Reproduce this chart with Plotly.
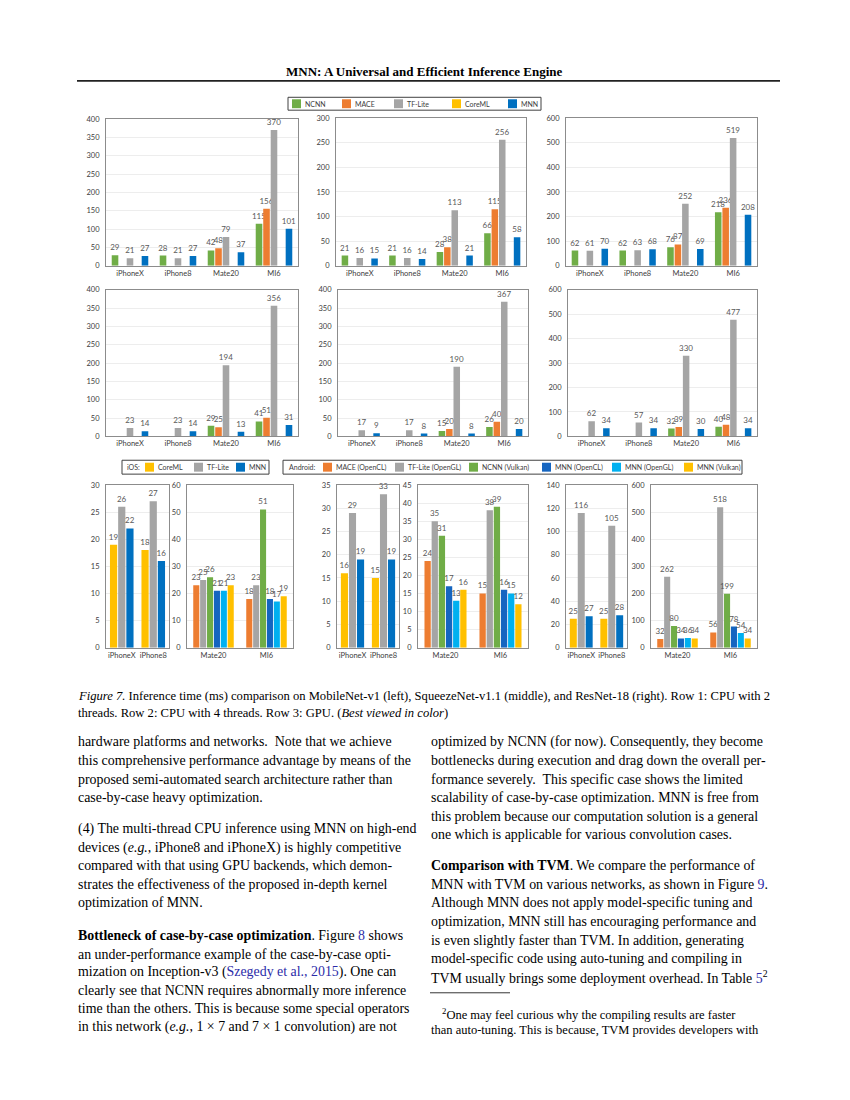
import plotly.graph_objects as go

PAGE_W, PAGE_H = 850, 1100
PAGE_MARGIN = 8                      # browser's default body margin
FIG_W, FIG_H = PAGE_W - 2 * PAGE_MARGIN, PAGE_H - 2 * PAGE_MARGIN

# ---------------- data ----------------
devices = ["iPhoneX", "iPhone8", "Mate20", "MI6"]
ios_devices = ["iPhoneX", "iPhone8"]
android_devices = ["Mate20", "MI6"]

cpu_engines = ["NCNN", "MACE", "TF-Lite", "CoreML", "MNN"]
ios_engines = ["CoreML", "TF-Lite", "MNN"]
android_engines = ["MACE (OpenCL)", "TF-Lite (OpenGL)", "NCNN (Vulkan)",
                   "MNN (OpenCL)", "MNN (OpenGL)", "MNN (Vulkan)"]

# Row 1: CPU with 2 threads
mobilenet_cpu2 = {"NCNN": [29, 28, 42, 115], "MACE": [None, None, 48, 156],
                  "TF-Lite": [21, 21, 79, 370], "CoreML": [None, None, None, None],
                  "MNN": [27, 27, 37, 101]}
squeezenet_cpu2 = {"NCNN": [21, 21, 28, 66], "MACE": [None, None, 38, 115],
                   "TF-Lite": [16, 16, 113, 256], "CoreML": [None, None, None, None],
                   "MNN": [15, 14, 21, 58]}
resnet_cpu2 = {"NCNN": [62, 62, 76, 218], "MACE": [None, None, 87, 236],
               "TF-Lite": [61, 63, 252, 519], "CoreML": [None, None, None, None],
               "MNN": [70, 68, 69, 208]}

# Row 2: CPU with 4 threads
mobilenet_cpu4 = {"NCNN": [None, None, 29, 41], "MACE": [None, None, 25, 51],
                  "TF-Lite": [23, 23, 194, 356], "CoreML": [None, None, None, None],
                  "MNN": [14, 14, 13, 31]}
squeezenet_cpu4 = {"NCNN": [None, None, 15, 26], "MACE": [None, None, 20, 40],
                   "TF-Lite": [17, 17, 190, 367], "CoreML": [None, None, None, None],
                   "MNN": [9, 8, 8, 20]}
resnet_cpu4 = {"NCNN": [None, None, 32, 40], "MACE": [None, None, 39, 48],
               "TF-Lite": [62, 57, 330, 477], "CoreML": [None, None, None, None],
               "MNN": [34, 34, 30, 34]}

# Row 3: GPU
mobilenet_gpu_ios = {"CoreML": [19, 18], "TF-Lite": [26, 27], "MNN": [22, 16]}
mobilenet_gpu_android = {"MACE (OpenCL)": [23, 18], "TF-Lite (OpenGL)": [25, 23],
                         "NCNN (Vulkan)": [26, 51], "MNN (OpenCL)": [21, 18],
                         "MNN (OpenGL)": [21, 17], "MNN (Vulkan)": [23, 19]}
squeezenet_gpu_ios = {"CoreML": [16, 15], "TF-Lite": [29, 33], "MNN": [19, 19]}
squeezenet_gpu_android = {"MACE (OpenCL)": [24, 15], "TF-Lite (OpenGL)": [35, 38],
                          "NCNN (Vulkan)": [31, 39], "MNN (OpenCL)": [17, 16],
                          "MNN (OpenGL)": [13, 15], "MNN (Vulkan)": [16, 12]}
resnet_gpu_ios = {"CoreML": [25, 25], "TF-Lite": [116, 105], "MNN": [27, 28]}
resnet_gpu_android = {"MACE (OpenCL)": [32, 56], "TF-Lite (OpenGL)": [262, 518],
                      "NCNN (Vulkan)": [80, 199], "MNN (OpenCL)": [34, 78],
                      "MNN (OpenGL)": [36, 54], "MNN (Vulkan)": [34, 34]}

colors = {"NCNN": "#70AD47", "MACE": "#ED7D31", "TF-Lite": "#A5A5A5",
          "CoreML": "#FFC000", "MNN": "#0070C0",
          "MACE (OpenCL)": "#ED7D31", "TF-Lite (OpenGL)": "#A5A5A5",
          "NCNN (Vulkan)": "#70AD47", "MNN (OpenCL)": "#1565C0",
          "MNN (OpenGL)": "#00B0F0", "MNN (Vulkan)": "#FFC000"}

# chart specs: data, categories, engines, (x0, x1, y0, y1) in page px, ymax, dtick
charts = [
    (mobilenet_cpu2, devices, cpu_engines, (106, 298, 116, 264), 400, 50),
    (squeezenet_cpu2, devices, cpu_engines, (336, 526, 115, 264), 300, 50),
    (resnet_cpu2, devices, cpu_engines, (566, 757, 115, 264), 600, 100),
    (mobilenet_cpu4, devices, cpu_engines, (106, 298, 288, 436), 400, 50),
    (squeezenet_cpu4, devices, cpu_engines, (338, 528, 288, 436), 400, 50),
    (resnet_cpu4, devices, cpu_engines, (568, 757, 288, 436), 600, 100),
    (mobilenet_gpu_ios, ios_devices, ios_engines, (106, 169, 485, 649), 30, 5),
    (mobilenet_gpu_android, android_devices, android_engines, (187, 293, 485, 649), 60, 10),
    (squeezenet_gpu_ios, ios_devices, ios_engines, (337, 399, 485, 649), 35, 5),
    (squeezenet_gpu_android, android_devices, android_engines, (418, 528, 485, 649), 45, 5),
    (resnet_gpu_ios, ios_devices, ios_engines, (566, 627, 485, 649), 140, 20),
    (resnet_gpu_android, android_devices, android_engines, (651, 757, 485, 649), 600, 100),
]

CHART_FONT = "Lato"
LABEL_GRAY = "#595959"
FRAME = "#8C8C8C"


def px_x(v):
    return (v - PAGE_MARGIN) / FIG_W


def px_y(v):
    return 1 - (v - PAGE_MARGIN) / FIG_H


fig = go.Figure()
layout_axes = {}

for i, (data, cats, engines, box, ymax, dtick) in enumerate(charts, start=1):
    sfx = "" if i == 1 else str(i)
    for eng in engines:
        fig.add_trace(go.Bar(
            x=cats, y=data[eng], name=eng,
            marker=dict(color=colors[eng], line=dict(width=0)),
            texttemplate="%{y}", textposition="outside", textangle=0,
            constraintext="none", cliponaxis=False,
            textfont=dict(family=CHART_FONT, size=8, color=LABEL_GRAY),
            xaxis="x" + sfx, yaxis="y" + sfx, showlegend=False,
        ))
    x0, x1, y0, y1 = box
    layout_axes["xaxis" + sfx] = dict(
        domain=[px_x(x0), px_x(x1)], anchor="y" + sfx, type="category",
        categoryorder="array", categoryarray=cats, tickangle=0,
        showline=True, mirror=True, linecolor=FRAME, linewidth=1,
        showgrid=False, ticks="", fixedrange=True,
        tickfont=dict(family=CHART_FONT, size=7.5, color="#404040"),
    )
    layout_axes["yaxis" + sfx] = dict(
        domain=[px_y(y1), px_y(y0)], anchor="x" + sfx,
        range=[0, ymax], tickmode="linear", tick0=0, dtick=dtick,
        showline=True, mirror=True, linecolor=FRAME, linewidth=1,
        showgrid=True, gridcolor="#EDEDED", gridwidth=0.8, zeroline=False,
        ticks="", fixedrange=True, ticklabelstandoff=4,
        tickfont=dict(family=CHART_FONT, size=7.5, color="#404040"),
    )

shapes = []
annotations = []
LEG_FONT = dict(family=CHART_FONT, size=7, color="#404040")


# ---------- legends (box, colour keys, labels) ----------
def add_legend(box, items, title=None):
    bx0, bx1, by0, by1 = box
    shapes.append(dict(type="rect", xref="paper", yref="paper",
                       x0=px_x(bx0), x1=px_x(bx1), y0=px_y(by1), y1=px_y(by0),
                       line=dict(color="#404040", width=1), fillcolor="white"))
    cy = (by0 + by1) / 2
    if title:
        annotations.append(dict(text=title[0], xref="paper", yref="paper",
                                x=px_x(title[1]), y=px_y(cy), showarrow=False,
                                xanchor="left", yanchor="middle", font=LEG_FONT))
    for label, sx in items:
        shapes.append(dict(type="rect", xref="paper", yref="paper",
                           x0=px_x(sx), x1=px_x(sx + 9), y0=px_y(cy + 4.5), y1=px_y(cy - 4.5),
                           line=dict(width=0), fillcolor=colors[label]))
        annotations.append(dict(text=label, xref="paper", yref="paper",
                                x=px_x(sx + 11), y=px_y(cy), showarrow=False,
                                xanchor="left", yanchor="middle", font=LEG_FONT))


add_legend((288, 541, 94, 107), list(zip(cpu_engines, [292, 342, 394, 452, 508])))
add_legend((122, 269, 460, 474), list(zip(ios_engines, [145, 194, 236])), ("iOS:", 125))
add_legend((283, 742, 460, 474), list(zip(android_engines, [323, 395, 469, 542, 612, 684])),
           ("Android:", 287))

# ---------- page text ----------
SERIF = "Liberation Serif"
BLUE = "#2B2BA8"
DY = 3   # visual-centre correction for text lines


def text_line(text, x, y, size=13.9, anchor="left"):
    annotations.append(dict(text=text, xref="paper", yref="paper",
                            x=px_x(x), y=px_y(y), showarrow=False,
                            xanchor=anchor, yanchor="middle", align="left",
                            font=dict(family=SERIF, size=size, color="black")))


text_line("<b>MNN: A Universal and Efficient Inference Engine</b>", 424, 68, size=13, anchor="center")
shapes.append(dict(type="line", xref="paper", yref="paper",
                   x0=px_x(77), x1=px_x(780), y0=px_y(77.5), y1=px_y(77.5),
                   line=dict(color="#222222", width=1.6)))

text_line("<i>Figure 7.</i> Inference time (ms) comparison on MobileNet-v1 (left), SqueezeNet-v1.1 (middle), "
          "and ResNet-18 (right). Row 1: CPU with 2", 76, 695 + DY, size=12.6)
text_line("threads. Row 2: CPU with 4 threads. Row 3: GPU. (<i>Best viewed in color</i>)", 76, 712 + DY, size=12.6)

left_lines = [
    ("hardware platforms and networks.  Note that we achieve", 741),
    ("this comprehensive performance advantage by means of the", 760),
    ("proposed semi-automated search architecture rather than", 779),
    ("case-by-case heavy optimization.", 797),
    ("(4) The multi-thread CPU inference using MNN on high-end", 829),
    ("devices (<i>e.g.</i>, iPhone8 and iPhoneX) is highly competitive", 848),
    ("compared with that using GPU backends, which demon-", 866),
    ("strates the effectiveness of the proposed in-depth kernel", 885),
    ("optimization of MNN.", 903),
    ("<b>Bottleneck of case-by-case optimization</b>. Figure <span style='color:%s'>8</span> shows" % BLUE, 936),
    ("an under-performance example of the case-by-case opti-", 955),
    ("mization on Inception-v3 (<span style='color:%s'>Szegedy et al., 2015</span>). One can" % BLUE, 973),
    ("clearly see that NCNN requires abnormally more inference", 992),
    ("time than the others. This is because some special operators", 1010),
    ("in this network (<i>e.g.</i>, 1 × 7 and 7 × 1 convolution) are not", 1029),
]
right_lines = [
    ("optimized by NCNN (for now). Consequently, they become", 741),
    ("bottlenecks during execution and drag down the overall per-", 760),
    ("formance severely.  This specific case shows the limited", 779),
    ("scalability of case-by-case optimization. MNN is free from", 797),
    ("this problem because our computation solution is a general", 816),
    ("one which is applicable for various convolution cases.", 834),
    ("<b>Comparison with TVM</b>. We compare the performance of", 866),
    ("MNN with TVM on various networks, as shown in Figure <span style='color:%s'>9</span>." % BLUE, 885),
    ("Although MNN does not apply model-specific tuning and", 903),
    ("optimization, MNN still has encouraging performance and", 922),
    ("is even slightly faster than TVM. In addition, generating", 941),
    ("model-specific code using auto-tuning and compiling in", 959),
    ("TVM usually brings some deployment overhead. In Table <span style='color:%s'>5</span><sup>2</sup>" % BLUE, 978),
]
for t, y in left_lines:
    text_line(t, 76, y + DY)
for t, y in right_lines:
    text_line(t, 429, y + DY)

shapes.append(dict(type="line", xref="paper", yref="paper",
                   x0=px_x(430), x1=px_x(510), y0=px_y(997), y1=px_y(997),
                   line=dict(color="black", width=0.8)))
text_line("<sup>2</sup>One may feel curious why the compiling results are faster", 440, 1015 + DY, size=12.5)
text_line("than auto-tuning. This is because, TVM provides developers with", 429, 1032 + DY, size=12.5)

fig.update_layout(
    width=FIG_W, height=FIG_H, autosize=False,
    margin=dict(l=0, r=0, t=0, b=0),
    paper_bgcolor="white", plot_bgcolor="white",
    barmode="group", bargap=0.22, bargroupgap=0.12,
    showlegend=False,
    shapes=shapes, annotations=annotations,
    font=dict(family=CHART_FONT),
    **layout_axes,
)

fig.write_html("out.html")
